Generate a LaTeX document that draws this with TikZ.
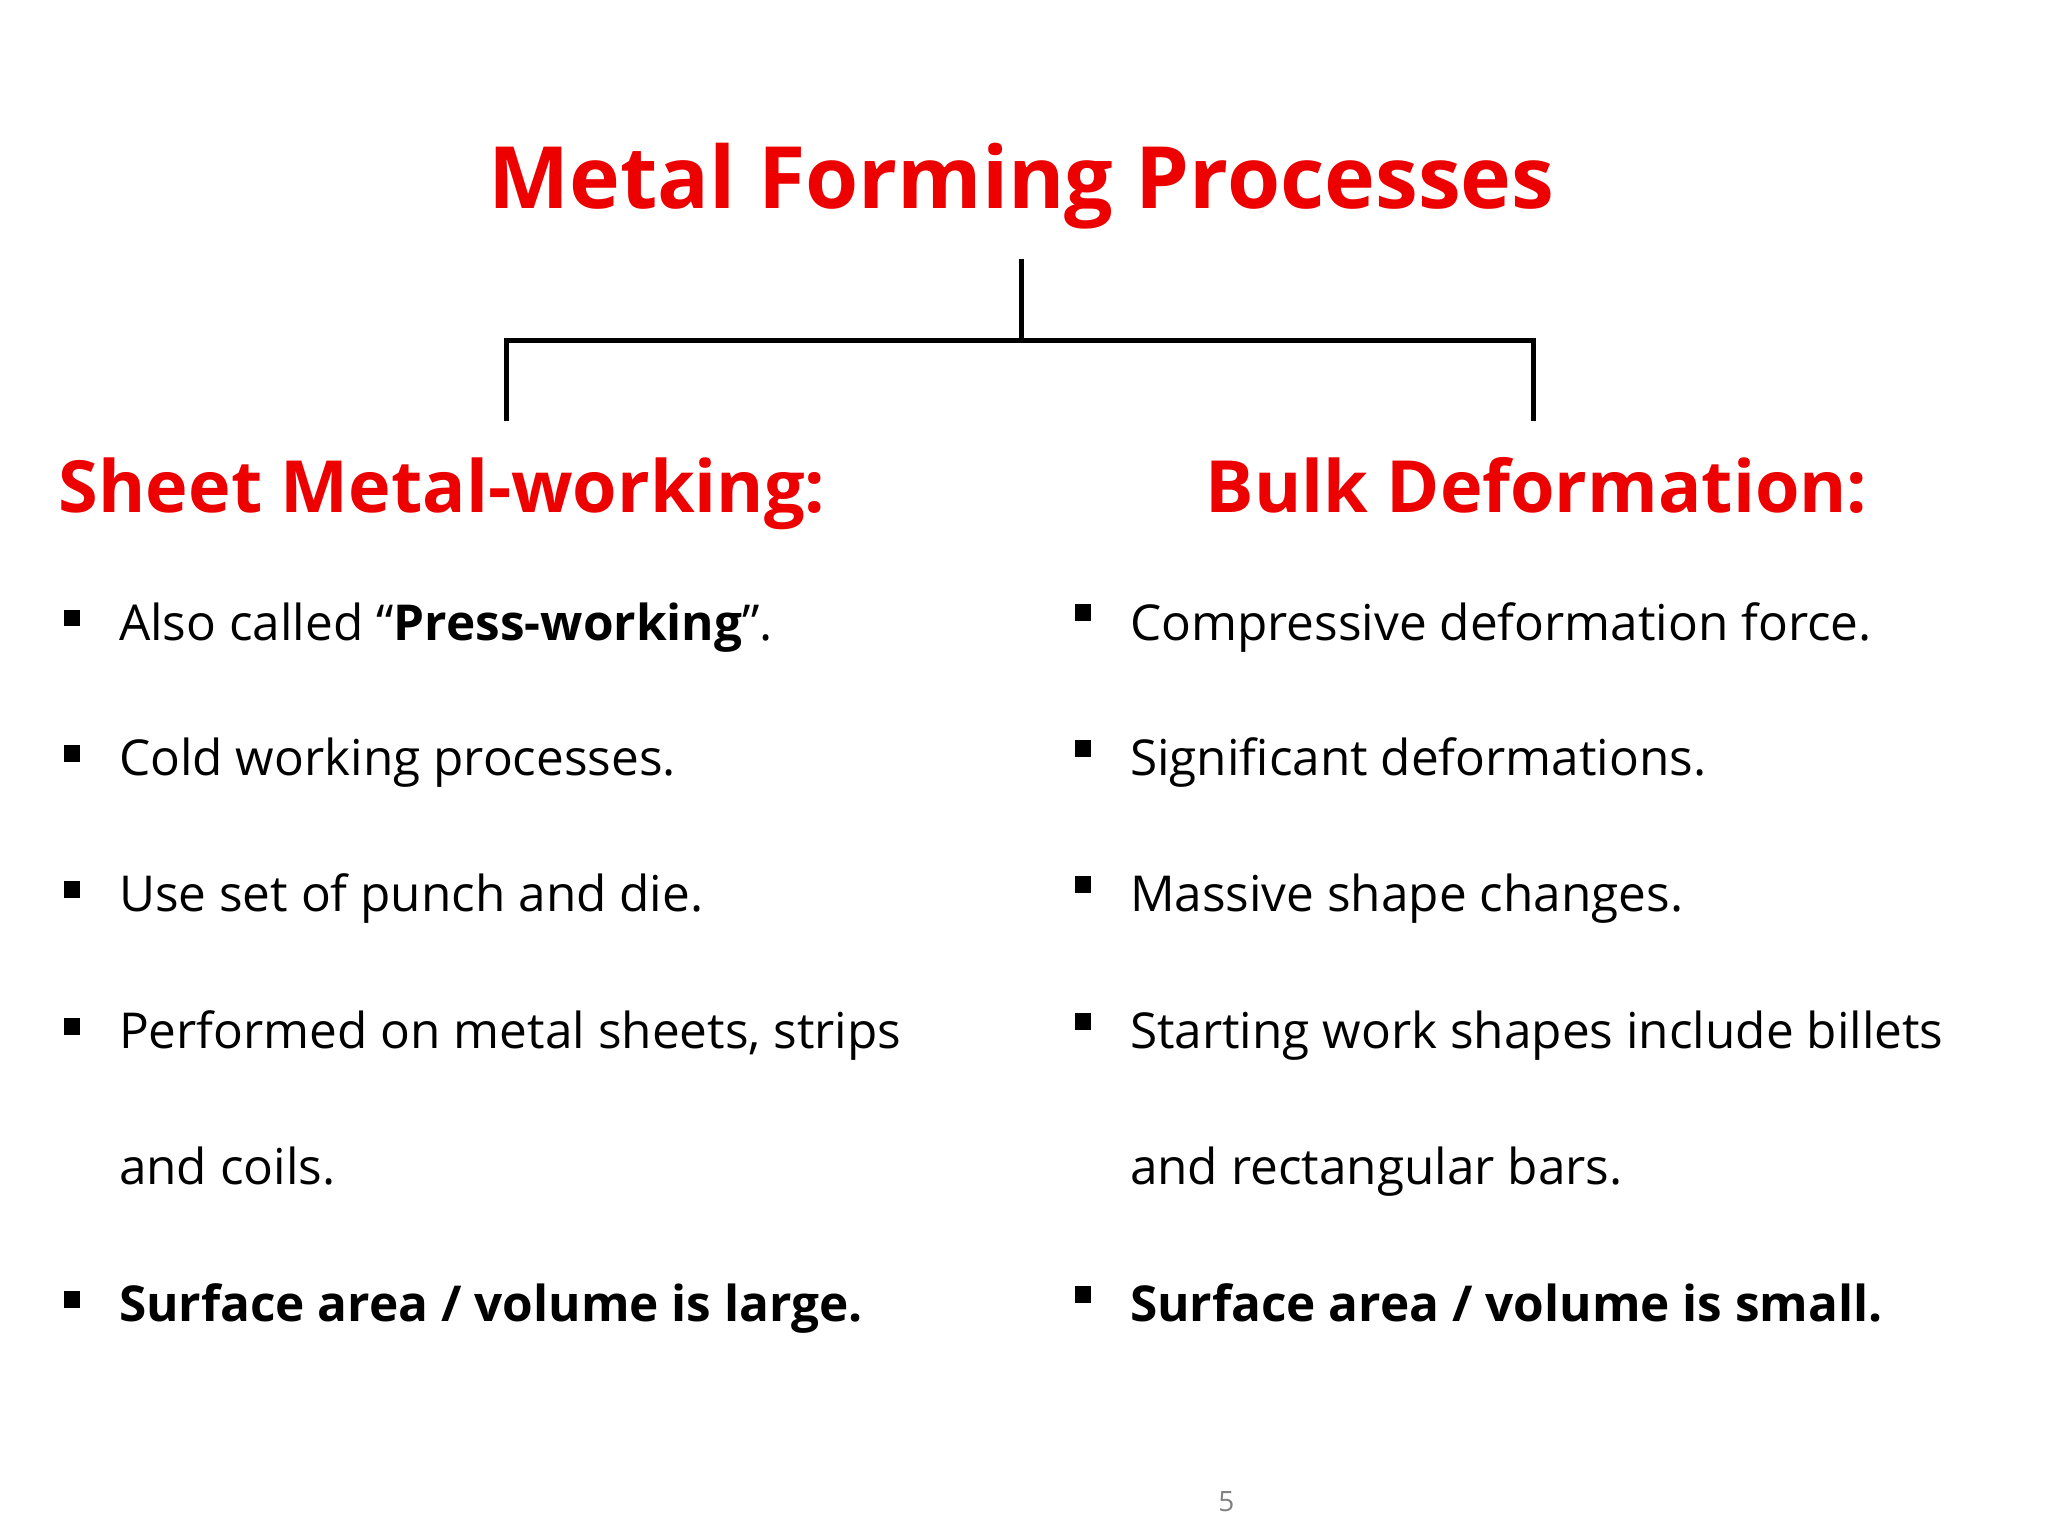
\documentclass[tikz,border=0pt]{standalone}
\usepackage{fontspec}
\setmainfont{Open Sans}
\definecolor{tred}{RGB}{236,0,0}
\begin{document}
\begin{tikzpicture}[x=1.306pt,y=-1.306pt,
  title/.style={text=tred,font=\fontsize{86}{94}\selectfont\bfseries,anchor=base},
  head/.style={text=tred,font=\fontsize{72}{80}\selectfont\bfseries,anchor=base west,inner sep=0},
  item/.style={font=\fontsize{49.5}{58}\selectfont,anchor=base west,inner sep=0},
  bul/.style={fill=black,minimum size=16.5pt,inner sep=0},
  tree/.style={line width=5pt}]
\useasboundingbox (0,0) rectangle (1568,1176);
\node[title] (t) at (782,160) {Metal Forming Processes};
\coordinate (c0) at (782,198); \coordinate (c1) at (782,261);
\coordinate (l0) at (388,261); \coordinate (l1) at (388,322);
\coordinate (r0) at (1174,261); \coordinate (r1) at (1174,322);
\draw[tree] (c0) -- (c1) (l1) -- (l0) -- (r0) -- (r1);
\node[head] (h1) at (45,392) {Sheet Metal-working:};
\node[head] (h2) at (923,392) {Bulk Deformation:};
\foreach \y/\t [count=\i] in {490/{Also called “\textbf{Press-working}”.},594/{Cold working processes.},698/{Use set of punch and die.},803/{Performed on metal sheets, strips},1012/{\textbf{Surface area / volume is large.}}}{
  \node[bul] (lb\i) at (55,\y-17) {};
  \node[item] (lt\i) at (91,\y) {\t};}
\node[item] (lc) at (91,907) {and coils.};
\foreach \y/\t [count=\i] in {490/{Compressive deformation force.},594/{Significant deformations.},698/{Massive shape changes.},803/{Starting work shapes include billets},1012/{\textbf{Surface area / volume is small.}}}{
  \node[bul] (rb\i) at (829,\y-21) {};
  \node[item] (rt\i) at (865,\y) {\t};}
\node[item] (rc) at (865,907) {and rectangular bars.};
\node[font=\fontsize{28}{30}\selectfont,text=gray,anchor=base] (pn) at (939,1157) {5};
\end{tikzpicture}
\end{document}
